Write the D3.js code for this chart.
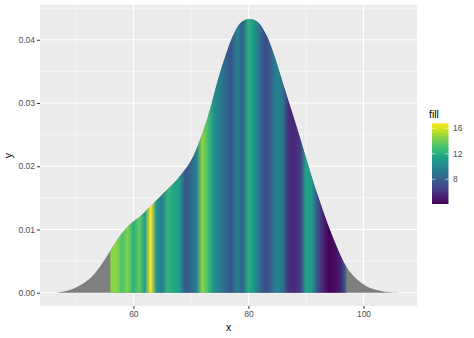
<!DOCTYPE html>
<html><head><meta charset="utf-8">
<script src="https://cdn.jsdelivr.net/npm/d3@7"></script>
<style>body{margin:0;background:#fff}svg{display:block}text{font-family:"Liberation Sans",Arial,sans-serif}</style>
</head><body><svg id="c" width="474" height="338"></svg>
<script>
// density curve (x, y)
const densX = [46.75,48.5,50.2,52.5,54.2,55.9,57.7,59.4,61.2,62.9,65.2,67.5,69.9,71.6,73.3,74.5,75.7,77.4,78.8,80.2,81.6,83.2,84.6,86.1,87.5,89.0,91.9,94.8,97.1,99.0,100.6,102.5,104.1,106.3];
const densY = [0,0.0003,0.0009,0.0023,0.0041,0.0065,0.0090,0.0108,0.0121,0.0136,0.0157,0.0178,0.0207,0.0242,0.0289,0.0330,0.0366,0.0408,0.0428,0.0433,0.0428,0.0406,0.0372,0.0328,0.0288,0.0244,0.0158,0.0085,0.0040,0.0020,0.0010,0.0004,0.0001,0];
// fill value per integer x (gradient stops)
const fillX = d3.range(56, 98);
const fillV = [14.6,14.6,13.2,14.3,12.1,13.75,11.1,16.8,10.7,9.5,12.5,11.6,11.1,7.5,8.3,9.8,14.6,12.9,10.45,9.5,8.3,7.3,9.7,8.0,12.1,10.7,8.7,6.9,8.3,9.8,8.9,5.75,5.5,6.3,11.5,11.0,7.3,5.4,4.1,4.5,5.2,8.7];
const xTicks = [60,80,100];
const yTicks = [0,0.01,0.02,0.03,0.04];
const legendTicks = [8,12,16];

const svg = d3.select("#c");
const L=40,R=417,T=5,B=306;
const x = d3.scaleLinear().domain([43.77,109.3]).range([L,R]);
const y = d3.scaleLinear().domain([-0.0021,0.0455]).range([B,T]);
const fExt = d3.extent(fillV);
const col = d3.scaleSequential(d3.interpolateViridis).domain(fExt);

svg.append("rect").attr("x",L).attr("y",T).attr("width",R-L).attr("height",B-T).attr("fill","#EBEBEB");
const g = svg.append("g");
[50,70,90].forEach(v=>g.append("line").attr("x1",x(v)).attr("x2",x(v)).attr("y1",T).attr("y2",B).attr("stroke","#fff").attr("stroke-width",0.55));
[0.005,0.015,0.025,0.035,0.045].forEach(v=>g.append("line").attr("y1",y(v)).attr("y2",y(v)).attr("x1",L).attr("x2",R).attr("stroke","#fff").attr("stroke-width",0.55));
xTicks.forEach(v=>g.append("line").attr("x1",x(v)).attr("x2",x(v)).attr("y1",T).attr("y2",B).attr("stroke","#fff").attr("stroke-width",1.1));
yTicks.forEach(v=>g.append("line").attr("y1",y(v)).attr("y2",y(v)).attr("x1",L).attr("x2",R).attr("stroke","#fff").attr("stroke-width",1.1));

const pts = densX.map((d,i)=>[d,densY[i]]);
const area = d3.area().x(d=>x(d[0])).y0(y(0)).y1(d=>Math.min(y(0),y(d[1]))).curve(d3.curveCatmullRom.alpha(0.5));

const defs = svg.append("defs");
const grad = defs.append("linearGradient").attr("id","gr").attr("gradientUnits","userSpaceOnUse")
  .attr("x1",x(fillX[0])).attr("x2",x(fillX[fillX.length-1])).attr("y1",0).attr("y2",0);
fillX.forEach((v,i)=>grad.append("stop").attr("offset",(v-fillX[0])/(fillX[fillX.length-1]-fillX[0])).attr("stop-color",col(fillV[i])));
defs.append("clipPath").attr("id","cp").append("rect").attr("x",x(fillX[0])).attr("y",T).attr("width",x(fillX[fillX.length-1])-x(fillX[0])).attr("height",B-T);

svg.append("path").datum(pts).attr("d",area).attr("fill","#7F7F7F");
svg.append("path").datum(pts).attr("d",area).attr("fill","url(#gr)").attr("clip-path","url(#cp)");

const xa = svg.append("g").attr("transform",`translate(0,${B})`)
  .call(d3.axisBottom(x).tickValues(xTicks).tickSize(3).tickPadding(2).tickFormat(d3.format("d")));
const ya = svg.append("g").attr("transform",`translate(${L},0)`)
  .call(d3.axisLeft(y).tickValues(yTicks).tickSize(3).tickPadding(2).tickFormat(d3.format(".2f")));
[xa,ya].forEach(a=>{a.select(".domain").remove();a.selectAll("line").attr("stroke","#333").attr("stroke-width",1);
  a.selectAll("text").attr("fill","#4D4D4D").attr("font-size",8.5).attr("font-family","Liberation Sans, Arial, sans-serif");});
svg.append("text").attr("x",(L+R)/2).attr("y",331).attr("text-anchor","middle").attr("font-size",10.5).text("x");
svg.append("text").attr("transform",`translate(12,${(T+B)/2}) rotate(-90)`).attr("text-anchor","middle").attr("font-size",10.5).text("y");

const lb = d3.scaleLinear().domain(fExt).range([204,123.3]);
const lg = defs.append("linearGradient").attr("id","lg").attr("x1",0).attr("x2",0).attr("y1",1).attr("y2",0);
d3.range(0,1.0001,0.05).forEach(t=>lg.append("stop").attr("offset",t).attr("stop-color",d3.interpolateViridis(t)));
svg.append("text").attr("x",429).attr("y",118).attr("font-size",10.5).text("fill");
svg.append("rect").attr("x",432).attr("y",123.3).attr("width",16.5).attr("height",80.7).attr("fill","url(#lg)");
legendTicks.forEach(v=>{
  svg.append("line").attr("x1",432).attr("x2",435.3).attr("y1",lb(v)).attr("y2",lb(v)).attr("stroke","#fff").attr("stroke-width",0.6);
  svg.append("line").attr("x1",445.2).attr("x2",448.5).attr("y1",lb(v)).attr("y2",lb(v)).attr("stroke","#fff").attr("stroke-width",0.6);
  svg.append("text").attr("x",453).attr("y",lb(v)).attr("dy","0.35em").attr("font-size",8.5).attr("fill","#4D4D4D").text(v);
});
</script></body></html>
